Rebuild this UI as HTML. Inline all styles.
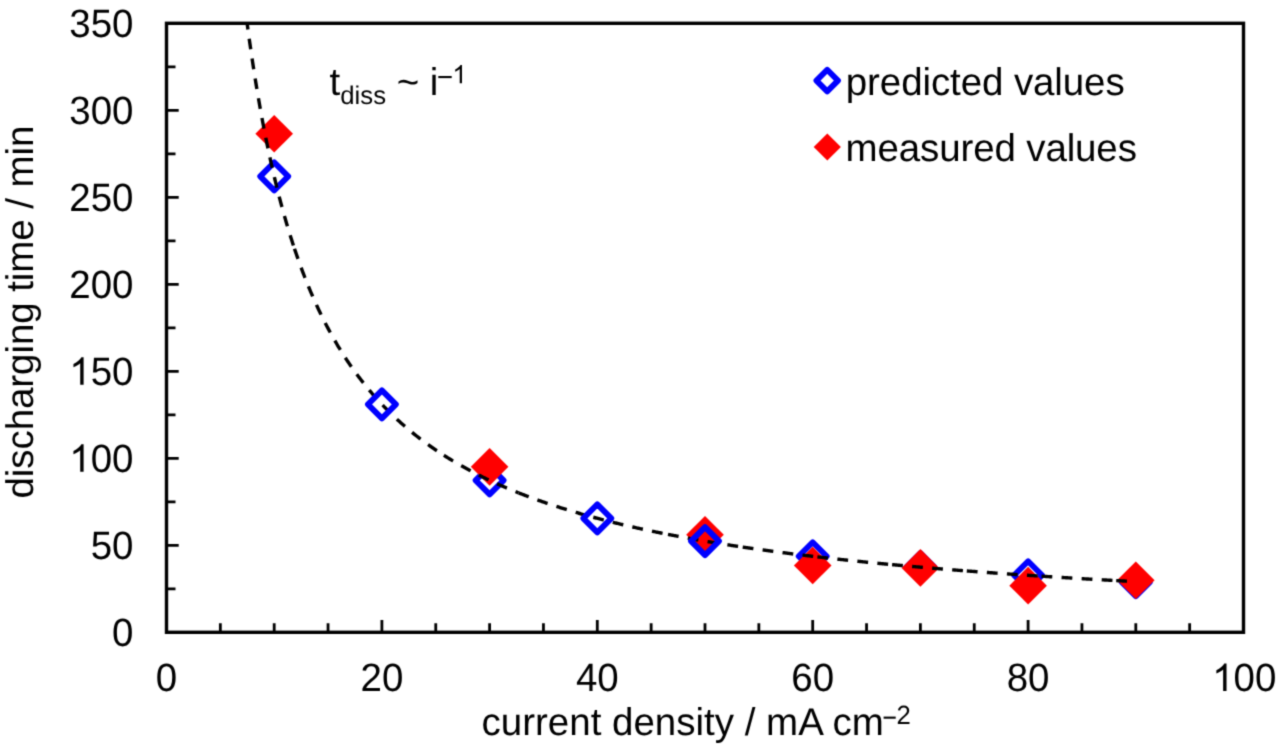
<!DOCTYPE html><html><head><meta charset="utf-8"><style>html,body{margin:0;padding:0;background:#fff;width:1280px;height:748px;overflow:hidden}svg{display:block}text{font-family:"Liberation Sans",sans-serif;fill:#000;text-rendering:geometricPrecision}</style></head><body>
<svg width="1280" height="748" viewBox="0 0 1280 748">
<defs><filter id="bl" filterUnits="userSpaceOnUse" x="-8" y="-8" width="1296" height="764" color-interpolation-filters="sRGB"><feConvolveMatrix order="3" kernelMatrix="0.02768 0.11101 0.02768 0.11101 0.44521 0.11101 0.02768 0.11101 0.02768" edgeMode="duplicate" preserveAlpha="true"/></filter><path id="one" d="M763 0L583 0L583 1147Q518 1085 412.5 1023Q307 961 223 930L223 1104Q374 1175 485 1273.5Q596 1372 647 1466L763 1466Z"/></defs>
<rect width="1280" height="748" fill="#fff"/><g filter="url(#bl)"><rect x="-10" y="-10" width="1300" height="768" fill="#fff"/>
<path d="M220.35 632.30V623.30M274.20 632.30V623.30M328.05 632.30V623.30M381.90 632.30V620.10M435.75 632.30V623.30M489.60 632.30V623.30M543.45 632.30V623.30M597.30 632.30V620.10M651.15 632.30V623.30M705.00 632.30V623.30M758.85 632.30V623.30M812.70 632.30V620.10M866.55 632.30V623.30M920.40 632.30V623.30M974.25 632.30V623.30M1028.10 632.30V620.10M1081.95 632.30V623.30M1135.80 632.30V623.30M1189.65 632.30V623.30M166.50 588.80H175.50M166.50 545.30H178.70M166.50 501.80H175.50M166.50 458.30H178.70M166.50 414.80H175.50M166.50 371.30H178.70M166.50 327.80H175.50M166.50 284.30H178.70M166.50 240.80H175.50M166.50 197.30H178.70M166.50 153.80H175.50M166.50 110.30H178.70M166.50 66.80H175.50" stroke="#000" stroke-width="2.8" fill="none"/>
<rect x="166.5" y="23.3" width="1077.0" height="609.0" fill="none" stroke="#000" stroke-width="3.4"/>
<text x="112.09" y="0" font-size="38.5" transform="translate(0 645.80) scale(1 1.026)">0</text>
<text x="90.68" y="0" font-size="38.5" transform="translate(0 558.80) scale(1 1.026)">50</text>
<text x="69.26" y="0" font-size="38.5" transform="translate(0 471.80) scale(1 1.026)"> 00</text><use href="#one" transform="translate(69.26 471.80) scale(0.01880 -0.01880)"/>
<text x="69.26" y="0" font-size="38.5" transform="translate(0 384.80) scale(1 1.026)"> 50</text><use href="#one" transform="translate(69.26 384.80) scale(0.01880 -0.01880)"/>
<text x="69.26" y="0" font-size="38.5" transform="translate(0 297.80) scale(1 1.026)">200</text>
<text x="69.26" y="0" font-size="38.5" transform="translate(0 210.80) scale(1 1.026)">250</text>
<text x="69.26" y="0" font-size="38.5" transform="translate(0 123.80) scale(1 1.026)">300</text>
<text x="69.26" y="0" font-size="38.5" transform="translate(0 36.80) scale(1 1.026)">350</text>
<text x="155.79" y="0" font-size="38.5" transform="translate(0 691.00) scale(1 1.026)">0</text>
<text x="360.49" y="0" font-size="38.5" transform="translate(0 691.00) scale(1 1.026)">20</text>
<text x="575.89" y="0" font-size="38.5" transform="translate(0 691.00) scale(1 1.026)">40</text>
<text x="791.29" y="0" font-size="38.5" transform="translate(0 691.00) scale(1 1.026)">60</text>
<text x="1006.69" y="0" font-size="38.5" transform="translate(0 691.00) scale(1 1.026)">80</text>
<text x="1212.18" y="0" font-size="38.5" transform="translate(0 691.00) scale(1 1.026)"> 00</text><use href="#one" transform="translate(1212.18 691.00) scale(0.01880 -0.01880)"/>
<text x="481.5" y="735.3" font-size="38.5">current density / mA cm</text>
<rect x="883.6" y="716.6" width="12.1" height="2.1"/>
<text x="0" y="0" font-size="25.7" transform="translate(896.6 723.6) scale(1 1.026)">2</text>
<text transform="translate(32.6 498.5) rotate(-90)" font-size="38.5" textLength="373" lengthAdjust="spacing">discharging time / min</text>
<path d="M260.20 176.42L274.20 162.42L288.20 176.42L274.20 190.42Z" fill="none" stroke="#0000ff" stroke-width="5.8" stroke-linejoin="round"/><path d="M475.60 480.34L489.60 466.34L503.60 480.34L489.60 494.34Z" fill="none" stroke="#0000ff" stroke-width="5.8" stroke-linejoin="round"/><path d="M798.70 556.32L812.70 542.32L826.70 556.32L812.70 570.32Z" fill="none" stroke="#0000ff" stroke-width="5.8" stroke-linejoin="round"/><path d="M906.40 567.17L920.40 553.17L934.40 567.17L920.40 581.17Z" fill="none" stroke="#0000ff" stroke-width="5.8" stroke-linejoin="round"/><path d="M1014.10 575.31L1028.10 561.31L1042.10 575.31L1028.10 589.31Z" fill="none" stroke="#0000ff" stroke-width="5.8" stroke-linejoin="round"/><path d="M1121.80 582.27L1135.80 568.27L1149.80 582.27L1135.80 596.27Z" fill="none" stroke="#0000ff" stroke-width="5.8" stroke-linejoin="round"/><path d="M255.40 133.79L274.20 114.99L293.00 133.79L274.20 152.59Z" fill="#ff0000"/><path d="M470.80 466.83L489.60 448.03L508.40 466.83L489.60 485.63Z" fill="#ff0000"/><path d="M686.20 534.86L705.00 516.06L723.80 534.86L705.00 553.66Z" fill="#ff0000"/><path d="M793.90 565.48L812.70 546.68L831.50 565.48L812.70 584.28Z" fill="#ff0000"/><path d="M901.60 567.92L920.40 549.12L939.20 567.92L920.40 586.72Z" fill="#ff0000"/><path d="M1009.30 585.67L1028.10 566.87L1046.90 585.67L1028.10 604.47Z" fill="#ff0000"/><path d="M1117.00 580.20L1135.80 561.40L1154.60 580.20L1135.80 599.00Z" fill="#ff0000"/>
<g fill="none" stroke="#000" stroke-width="3.4" stroke-dasharray="10.8 9.3"><polyline points="247.12,23.30 248.03,30.11 248.94,36.76 249.85,43.27 250.77,49.64 251.68,55.87 252.59,61.97 253.50,67.95 254.41,73.80 255.32,79.52 256.23,85.14 257.14,90.64 258.05,96.03 258.97,101.31 259.88,106.49 260.79,111.57 261.70,116.56 262.61,121.45 263.52,126.24 264.43,130.95 265.34,135.57 266.25,140.11 267.17,144.57 268.08,148.94 268.99,153.24 269.90,157.46 270.81,161.61 271.72,165.68 272.63,169.69 273.54,173.63 274.46,177.50 275.37,181.30 276.28,185.05 277.19,188.73 278.10,192.35 279.01,195.91 279.92,199.42 280.83,202.87 281.74,206.26 282.66,209.60 283.57,212.89 284.48,216.13 285.39,219.32 286.30,222.46 287.21,225.56 288.12,228.60 289.03,231.61 289.94,234.56 290.86,237.48 291.77,240.35 292.68,243.18 293.59,245.97 294.50,248.72" stroke-dashoffset="4.6"/><polyline points="294.50,248.72 295.40,251.40 296.30,254.04 297.20,256.64 298.10,259.21 299.00,261.75 299.90,264.25 300.80,266.71 301.70,269.15 302.60,271.55 303.50,273.92 304.40,276.26 305.30,278.57 306.20,280.84 307.10,283.09 308.00,285.32 308.90,287.51 309.80,289.67 310.70,291.81 311.60,293.92 312.50,296.01 313.40,298.07 314.30,300.11 315.20,302.12 316.10,304.10 317.00,306.07 317.90,308.00 318.80,309.92 319.70,311.82 320.60,313.69 321.50,315.54 322.40,317.37 323.30,319.17 324.20,320.96 325.10,322.73 326.00,324.47 326.90,326.20 327.80,327.91 328.70,329.60 329.60,331.27 330.50,332.92 331.40,334.55 332.30,336.17 333.20,337.77 334.10,339.35 335.00,340.92 335.90,342.46 336.80,344.00 337.70,345.51 338.60,347.01 339.50,348.49 340.40,349.96 341.30,351.42 342.20,352.86 343.10,354.28 344.00,355.69 344.90,357.09 345.80,358.47 346.70,359.83 347.60,361.19 348.50,362.53 349.40,363.86 350.30,365.17 351.20,366.47 352.10,367.76 353.00,369.04 353.90,370.30 354.80,371.56 355.70,372.80 356.60,374.02 357.50,375.24 358.40,376.45 359.30,377.64 360.20,378.82 361.10,380.00 362.00,381.16 362.90,382.31 363.80,383.45 364.70,384.58 365.60,385.70 366.50,386.81 367.40,387.91 368.30,389.00 369.20,390.08" stroke-dashoffset="0"/><polyline points="369.20,390.08 370.10,391.15 371.00,392.21 371.90,393.26 372.80,394.31 373.70,395.34 374.60,396.36 375.50,397.38 376.40,398.39 377.30,399.39 378.20,400.38 379.10,401.36 380.00,402.33 380.90,403.30 381.80,404.25 382.70,405.20 383.60,406.14 384.50,407.08 385.40,408.00 386.30,408.92 387.20,409.83 388.10,410.74 389.00,411.63 389.90,412.52 390.80,413.40 391.70,414.28 392.60,415.15 393.50,416.01 394.40,416.86 395.30,417.71 396.20,418.55 397.10,419.38 398.00,420.21 398.90,421.03 399.80,421.85 400.70,422.66 401.60,423.46 402.50,424.26 403.40,425.05 404.30,425.83 405.20,426.61 406.10,427.38 407.00,428.15 407.90,428.91 408.80,429.67 409.70,430.42 410.60,431.16 411.50,431.90 412.40,432.63 413.30,433.36 414.20,434.08 415.10,434.80 416.00,435.51 416.90,436.22 417.80,436.92 418.70,437.62 419.60,438.31 420.50,439.00 421.40,439.68 422.30,440.36 423.20,441.03 424.10,441.70 425.00,442.36 425.90,443.02 426.80,443.68 427.70,444.33 428.60,444.97 429.50,445.61 430.40,446.25 431.30,446.88 432.20,447.51 433.10,448.14 434.00,448.76 434.90,449.37 435.80,449.98 436.70,450.59 437.60,451.19 438.50,451.79 439.40,452.39 440.30,452.98 441.20,453.57 442.10,454.15 443.00,454.73 443.90,455.31" stroke-dashoffset="0"/><polyline points="443.90,455.31 444.80,455.88 445.70,456.45 446.60,457.01 447.50,457.57 448.40,458.13 449.30,458.69 450.20,459.24 451.10,459.78 452.00,460.33 452.90,460.87 453.80,461.40 454.70,461.94 455.60,462.47 456.50,463.00 457.40,463.52 458.30,464.04 459.20,464.56 460.10,465.07 461.00,465.58 461.90,466.09 462.80,466.60 463.70,467.10 464.60,467.60 465.50,468.09 466.40,468.58 467.30,469.07 468.20,469.56 469.10,470.05 470.00,470.53 470.90,471.00 471.80,471.48 472.70,471.95 473.60,472.42 474.50,472.89 475.40,473.35 476.30,473.82 477.20,474.28 478.10,474.73 479.00,475.19 479.90,475.64 480.80,476.09 481.70,476.53 482.60,476.97 483.50,477.42 484.40,477.85 485.30,478.29 486.20,478.72 487.10,479.16 488.00,479.58 488.90,480.01 489.80,480.43 490.70,480.86 491.60,481.27 492.50,481.69 493.40,482.11 494.30,482.52 495.20,482.93 496.10,483.34 497.00,483.74 497.90,484.15 498.80,484.55 499.70,484.95 500.60,485.34 501.50,485.74 502.40,486.13 503.30,486.52 504.20,486.91 505.10,487.30 506.00,487.68 506.90,488.06 507.80,488.44 508.70,488.82 509.60,489.20 510.50,489.57 511.40,489.94 512.30,490.32 513.20,490.68 514.10,491.05 515.00,491.42 515.90,491.78 516.80,492.14 517.70,492.50 518.60,492.86" stroke-dashoffset="0"/><polyline points="518.60,492.86 519.50,493.21 520.40,493.57 521.30,493.92 522.20,494.27 523.10,494.62 524.00,494.96 524.90,495.31 525.80,495.65 526.70,495.99 527.60,496.33 528.50,496.67 529.40,497.01 530.30,497.34 531.20,497.67 532.10,498.00 533.00,498.33 533.90,498.66 534.80,498.99 535.70,499.31 536.60,499.64 537.50,499.96 538.40,500.28 539.30,500.60 540.20,500.92 541.10,501.23 542.00,501.55 542.90,501.86 543.80,502.17 544.70,502.48 545.60,502.79 546.50,503.09 547.40,503.40 548.30,503.70 549.20,504.01 550.10,504.31 551.00,504.61 551.90,504.90 552.80,505.20 553.70,505.50 554.60,505.79 555.50,506.08 556.40,506.37 557.30,506.66 558.20,506.95 559.10,507.24 560.00,507.53 560.90,507.81 561.80,508.09 562.70,508.38 563.60,508.66 564.50,508.94 565.40,509.22 566.30,509.49 567.20,509.77 568.10,510.04 569.00,510.32 569.90,510.59 570.80,510.86 571.70,511.13 572.60,511.40 573.50,511.67 574.40,511.93 575.30,512.20 576.20,512.46 577.10,512.72 578.00,512.98 578.90,513.25 579.80,513.50 580.70,513.76 581.60,514.02 582.50,514.28 583.40,514.53 584.30,514.78 585.20,515.04 586.10,515.29 587.00,515.54 587.90,515.79 588.80,516.04 589.70,516.28 590.60,516.53 591.50,516.77 592.40,517.02 593.30,517.26" stroke-dashoffset="0"/><polyline points="593.30,517.26 594.20,517.50 595.10,517.74 596.00,517.99 596.90,518.22 597.80,518.46 598.70,518.70 599.60,518.94 600.50,519.17 601.40,519.40 602.30,519.64 603.20,519.87 604.10,520.10 605.00,520.33 605.90,520.56 606.80,520.79 607.70,521.02 608.60,521.24 609.50,521.47 610.40,521.69 611.30,521.92 612.20,522.14 613.10,522.36 614.00,522.58 614.90,522.80 615.80,523.02 616.70,523.24 617.60,523.46 618.50,523.68 619.40,523.89 620.30,524.11 621.20,524.32 622.10,524.53 623.00,524.75 623.90,524.96 624.80,525.17 625.70,525.38 626.60,525.59 627.50,525.80 628.40,526.00 629.30,526.21 630.20,526.42 631.10,526.62 632.00,526.83 632.90,527.03 633.80,527.23 634.70,527.43 635.60,527.64 636.50,527.84 637.40,528.04 638.30,528.23 639.20,528.43 640.10,528.63 641.00,528.83 641.90,529.02 642.80,529.22 643.70,529.41 644.60,529.61 645.50,529.80 646.40,529.99 647.30,530.18 648.20,530.37 649.10,530.56 650.00,530.75 650.90,530.94 651.80,531.13 652.70,531.32 653.60,531.50 654.50,531.69 655.40,531.87 656.30,532.06 657.20,532.24 658.10,532.43 659.00,532.61 659.90,532.79 660.80,532.97 661.70,533.15 662.60,533.33 663.50,533.51 664.40,533.69 665.30,533.87 666.20,534.04 667.10,534.22 668.00,534.40" stroke-dashoffset="0"/><polyline points="668.00,534.40 668.90,534.57 669.80,534.75 670.70,534.92 671.60,535.09 672.50,535.27 673.40,535.44 674.30,535.61 675.20,535.78 676.10,535.95 677.00,536.12 677.90,536.29 678.80,536.46 679.70,536.63 680.60,536.80 681.50,536.96 682.40,537.13 683.30,537.30 684.20,537.46 685.10,537.63 686.00,537.79 686.90,537.95 687.80,538.12 688.70,538.28 689.60,538.44 690.50,538.60 691.40,538.76 692.30,538.92 693.20,539.08 694.10,539.24 695.00,539.40 695.90,539.56 696.80,539.71 697.70,539.87 698.60,540.03 699.50,540.18 700.40,540.34 701.30,540.49 702.20,540.65 703.10,540.80 704.00,540.95 704.90,541.11 705.80,541.26 706.70,541.41 707.60,541.56 708.50,541.71 709.40,541.86 710.30,542.01 711.20,542.16 712.10,542.31 713.00,542.46 713.90,542.61 714.80,542.75 715.70,542.90 716.60,543.05 717.50,543.19 718.40,543.34 719.30,543.48 720.20,543.63 721.10,543.77 722.00,543.91 722.90,544.06 723.80,544.20 724.70,544.34 725.60,544.48 726.50,544.62 727.40,544.77 728.30,544.91 729.20,545.05 730.10,545.18 731.00,545.32 731.90,545.46 732.80,545.60 733.70,545.74 734.60,545.87 735.50,546.01 736.40,546.15 737.30,546.28 738.20,546.42 739.10,546.55 740.00,546.69 740.90,546.82 741.80,546.96 742.70,547.09" stroke-dashoffset="0"/><polyline points="742.70,547.09 743.60,547.22 744.50,547.35 745.40,547.49 746.30,547.62 747.20,547.75 748.10,547.88 749.00,548.01 749.90,548.14 750.80,548.27 751.70,548.40 752.60,548.53 753.50,548.66 754.40,548.79 755.30,548.91 756.20,549.04 757.10,549.17 758.00,549.29 758.90,549.42 759.80,549.55 760.70,549.67 761.60,549.80 762.50,549.92 763.40,550.04 764.30,550.17 765.20,550.29 766.10,550.41 767.00,550.54 767.90,550.66 768.80,550.78 769.70,550.90 770.60,551.02 771.50,551.15 772.40,551.27 773.30,551.39 774.20,551.51 775.10,551.63 776.00,551.74 776.90,551.86 777.80,551.98 778.70,552.10 779.60,552.22 780.50,552.34 781.40,552.45 782.30,552.57 783.20,552.69 784.10,552.80 785.00,552.92 785.90,553.03 786.80,553.15 787.70,553.26 788.60,553.38 789.50,553.49 790.40,553.60 791.30,553.72 792.20,553.83 793.10,553.94 794.00,554.06 794.90,554.17 795.80,554.28 796.70,554.39 797.60,554.50 798.50,554.61 799.40,554.72 800.30,554.83 801.20,554.94 802.10,555.05 803.00,555.16 803.90,555.27 804.80,555.38 805.70,555.49 806.60,555.60 807.50,555.70 808.40,555.81 809.30,555.92 810.20,556.02 811.10,556.13 812.00,556.24 812.90,556.34 813.80,556.45 814.70,556.55 815.60,556.66 816.50,556.76 817.40,556.87" stroke-dashoffset="0"/><polyline points="817.40,556.87 818.30,556.97 819.20,557.08 820.10,557.18 821.00,557.28 821.90,557.39 822.80,557.49 823.70,557.59 824.60,557.69 825.50,557.80 826.40,557.90 827.30,558.00 828.20,558.10 829.10,558.20 830.00,558.30 830.90,558.40 831.80,558.50 832.70,558.60 833.60,558.70 834.50,558.80 835.40,558.90 836.30,559.00 837.20,559.10 838.10,559.19 839.00,559.29 839.90,559.39 840.80,559.49 841.70,559.58 842.60,559.68 843.50,559.78 844.40,559.87 845.30,559.97 846.20,560.06 847.10,560.16 848.00,560.26 848.90,560.35 849.80,560.45 850.70,560.54 851.60,560.63 852.50,560.73 853.40,560.82 854.30,560.92 855.20,561.01 856.10,561.10 857.00,561.19 857.90,561.29 858.80,561.38 859.70,561.47 860.60,561.56 861.50,561.65 862.40,561.75 863.30,561.84 864.20,561.93 865.10,562.02 866.00,562.11 866.90,562.20 867.80,562.29 868.70,562.38 869.60,562.47 870.50,562.56 871.40,562.65 872.30,562.74 873.20,562.82 874.10,562.91 875.00,563.00 875.90,563.09 876.80,563.18 877.70,563.26 878.60,563.35 879.50,563.44 880.40,563.53 881.30,563.61 882.20,563.70 883.10,563.78 884.00,563.87 884.90,563.96 885.80,564.04 886.70,564.13 887.60,564.21 888.50,564.30 889.40,564.38 890.30,564.47 891.20,564.55 892.10,564.63" stroke-dashoffset="0"/><polyline points="892.10,564.63 893.00,564.72 893.90,564.80 894.80,564.89 895.70,564.97 896.60,565.05 897.50,565.13 898.40,565.22 899.30,565.30 900.20,565.38 901.10,565.46 902.00,565.55 902.90,565.63 903.80,565.71 904.70,565.79 905.60,565.87 906.50,565.95 907.40,566.03 908.30,566.11 909.20,566.19 910.10,566.27 911.00,566.35 911.90,566.43 912.80,566.51 913.70,566.59 914.60,566.67 915.50,566.75 916.40,566.83 917.30,566.91 918.20,566.98 919.10,567.06 920.00,567.14 920.90,567.22 921.80,567.30 922.70,567.37 923.60,567.45 924.50,567.53 925.40,567.60 926.30,567.68 927.20,567.76 928.10,567.83 929.00,567.91 929.90,567.98 930.80,568.06 931.70,568.14 932.60,568.21 933.50,568.29 934.40,568.36 935.30,568.44 936.20,568.51 937.10,568.59 938.00,568.66 938.90,568.73 939.80,568.81 940.70,568.88 941.60,568.96 942.50,569.03 943.40,569.10 944.30,569.18 945.20,569.25 946.10,569.32 947.00,569.39 947.90,569.47 948.80,569.54 949.70,569.61 950.60,569.68 951.50,569.75 952.40,569.83 953.30,569.90 954.20,569.97 955.10,570.04 956.00,570.11 956.90,570.18 957.80,570.25 958.70,570.32 959.60,570.39 960.50,570.46 961.40,570.53 962.30,570.60 963.20,570.67 964.10,570.74 965.00,570.81 965.90,570.88 966.80,570.95" stroke-dashoffset="0"/><polyline points="966.80,570.95 967.70,571.02 968.60,571.09 969.50,571.16 970.40,571.22 971.30,571.29 972.20,571.36 973.10,571.43 974.00,571.50 974.90,571.56 975.80,571.63 976.70,571.70 977.60,571.77 978.50,571.83 979.40,571.90 980.30,571.97 981.20,572.03 982.10,572.10 983.00,572.17 983.90,572.23 984.80,572.30 985.70,572.37 986.60,572.43 987.50,572.50 988.40,572.56 989.30,572.63 990.20,572.69 991.10,572.76 992.00,572.82 992.90,572.89 993.80,572.95 994.70,573.02 995.60,573.08 996.50,573.15 997.40,573.21 998.30,573.27 999.20,573.34 1000.10,573.40 1001.00,573.46 1001.90,573.53 1002.80,573.59 1003.70,573.65 1004.60,573.72 1005.50,573.78 1006.40,573.84 1007.30,573.91 1008.20,573.97 1009.10,574.03 1010.00,574.09 1010.90,574.15 1011.80,574.22 1012.70,574.28 1013.60,574.34 1014.50,574.40 1015.40,574.46 1016.30,574.52 1017.20,574.58 1018.10,574.65 1019.00,574.71 1019.90,574.77 1020.80,574.83 1021.70,574.89 1022.60,574.95 1023.50,575.01 1024.40,575.07 1025.30,575.13 1026.20,575.19 1027.10,575.25 1028.00,575.31 1028.90,575.37 1029.80,575.43 1030.70,575.49 1031.60,575.55 1032.50,575.60 1033.40,575.66 1034.30,575.72 1035.20,575.78 1036.10,575.84 1037.00,575.90 1037.90,575.96 1038.80,576.01 1039.70,576.07 1040.60,576.13 1041.50,576.19" stroke-dashoffset="0"/><polyline points="1041.50,576.19 1042.40,576.25 1043.30,576.30 1044.20,576.36 1045.10,576.42 1046.00,576.47 1046.90,576.53 1047.80,576.59 1048.70,576.65 1049.60,576.70 1050.50,576.76 1051.40,576.82 1052.30,576.87 1053.20,576.93 1054.10,576.98 1055.00,577.04 1055.90,577.10 1056.80,577.15 1057.70,577.21 1058.60,577.26 1059.50,577.32 1060.40,577.37 1061.30,577.43 1062.20,577.48 1063.10,577.54 1064.00,577.59 1064.90,577.65 1065.80,577.70 1066.70,577.76 1067.60,577.81 1068.50,577.87 1069.40,577.92 1070.30,577.98 1071.20,578.03 1072.10,578.08 1073.00,578.14 1073.90,578.19 1074.80,578.24 1075.70,578.30 1076.60,578.35 1077.50,578.41 1078.40,578.46 1079.30,578.51 1080.20,578.56 1081.10,578.62 1082.00,578.67 1082.90,578.72 1083.80,578.78 1084.70,578.83 1085.60,578.88 1086.50,578.93 1087.40,578.98 1088.30,579.04 1089.20,579.09 1090.10,579.14 1091.00,579.19 1091.90,579.24 1092.80,579.30 1093.70,579.35 1094.60,579.40 1095.50,579.45 1096.40,579.50 1097.30,579.55 1098.20,579.60 1099.10,579.65 1100.00,579.70 1100.90,579.75 1101.80,579.81 1102.70,579.86 1103.60,579.91 1104.50,579.96 1105.40,580.01 1106.30,580.06 1107.20,580.11 1108.10,580.16 1109.00,580.21 1109.90,580.26 1110.80,580.31 1111.70,580.36 1112.60,580.40 1113.50,580.45 1114.40,580.50 1115.30,580.55 1116.20,580.60" stroke-dashoffset="0"/><polyline points="1116.20,580.60 1117.13,580.65 1118.07,580.70 1119.00,580.75 1119.93,580.80 1120.87,580.85 1121.80,580.90 1122.73,580.95 1123.67,581.00 1124.60,581.05 1125.53,581.10 1126.47,581.15 1127.40,581.20 1128.33,581.25 1129.27,581.30 1130.20,581.35 1131.13,581.40 1132.07,581.45 1133.00,581.50 1133.93,581.55 1134.87,581.60 1135.80,581.65" stroke-dashoffset="0"/></g>
<path d="M367.90 404.36L381.90 390.36L395.90 404.36L381.90 418.36Z" fill="none" stroke="#0000ff" stroke-width="5.8" stroke-linejoin="round"/><path d="M583.30 518.33L597.30 504.33L611.30 518.33L597.30 532.33Z" fill="none" stroke="#0000ff" stroke-width="5.8" stroke-linejoin="round"/><path d="M691.00 541.12L705.00 527.12L719.00 541.12L705.00 555.12Z" fill="none" stroke="#0000ff" stroke-width="5.8" stroke-linejoin="round"/>
<text x="329.6" y="94.8" font-size="38.5">t<tspan font-size="25.7" dy="9.4">diss</tspan><tspan dy="-9.4"> ~ i</tspan></text>
<rect x="438.3" y="76.0" width="13.4" height="2.1"/>
<use href="#one" transform="translate(452.4 83.3) scale(0.01255 -0.01255)"/>
<path d="M816.40 80.60L827.20 69.80L838.00 80.60L827.20 91.40Z" fill="none" stroke="#0000ff" stroke-width="5.8" stroke-linejoin="round"/>
<path d="M813.70 147.00L827.30 133.40L840.90 147.00L827.30 160.60Z" fill="#ff0000"/>
<text x="845.8" y="95.2" font-size="38.5" textLength="278.875" lengthAdjust="spacing">predicted values</text>
<text x="845.6" y="161.0" font-size="38.5" textLength="291.2875" lengthAdjust="spacing">measured values</text>
</g></svg></body></html>
